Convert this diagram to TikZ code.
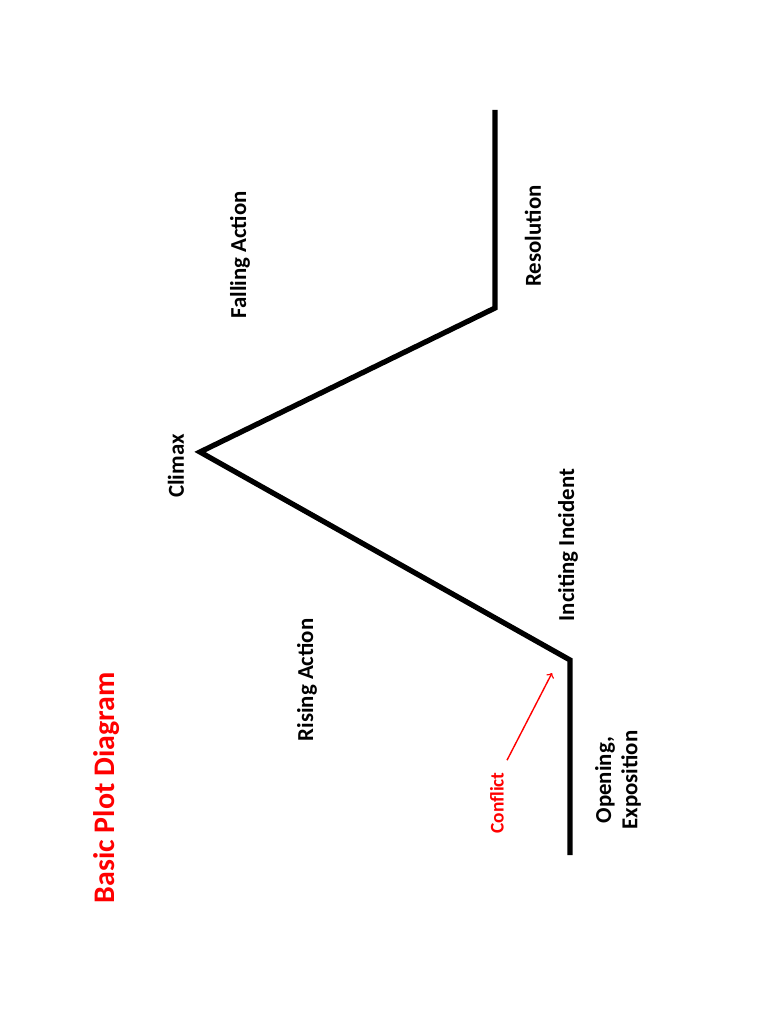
\documentclass[tikz,border=0pt]{standalone}
\usepackage{fontspec}
\setmainfont{Carlito}
\begin{document}
\begin{tikzpicture}[x=0.02cm,y=-0.02cm,
  lbl/.style={rotate=90,font=\bfseries\fontsize{13}{15}\selectfont,align=center},
  redlbl/.style={lbl,text=red}]
\useasboundingbox (0,0) rectangle (768,1024);
%plot line
\coordinate (start) at (570,855);
\coordinate (incite) at (570,660);
\coordinate (peak) at (200,452);
\coordinate (resol) at (495,308);
\coordinate (stop) at (495,110);
\draw [line width=3pt,line join=miter] (start) -- (incite) -- (peak) -- (resol) -- (stop);

%labels
\node[redlbl,font=\bfseries\fontsize{17}{19}\selectfont] (title) at (107,788) {Basic Plot Diagram};
\node[lbl] (rising) at (307,680) {Rising Action};
\node[lbl] (climax) at (176,466) {Climax};
\node[lbl] (falling) at (240,255) {Falling Action};
\node[lbl] (resolution) at (533,236) {Resolution};
\node[lbl] (inciting) at (568,545) {Inciting Incident};
\node[lbl] (opening) at (618,780) {Opening,\\Exposition};

%conflict
\node[redlbl,font=\bfseries\fontsize{11}{13}\selectfont] (conflict) at (497,803) {Conflict};
\coordinate (tip) at (552,673);
\draw [red,->,thick] (conflict.east) ++(10,-6) -- (tip);
\end{tikzpicture}
\end{document}
